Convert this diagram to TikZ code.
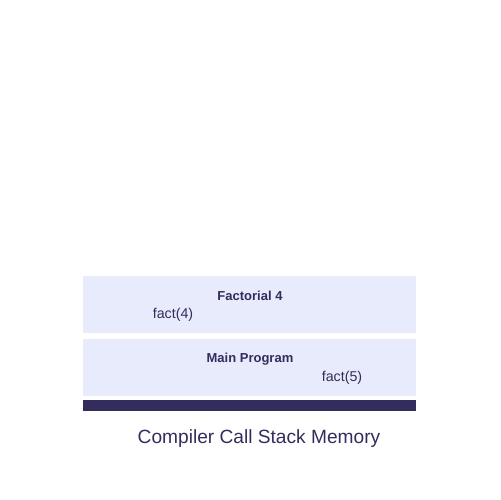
\documentclass[tikz,border=0pt]{standalone}
\usepackage{fontspec}
\setmainfont{Liberation Sans}
\usepackage{xcolor}
\usetikzlibrary{calc}
\definecolor{framefill}{HTML}{E8EBFC}
\definecolor{stackink}{HTML}{322D5C}

\begin{document}
\begin{tikzpicture}[x=0.02cm,y=-0.02cm]
\tikzset{
  frame/.style={fill=framefill,draw=none},
  frametitle/.style={text=stackink,font=\fontsize{7.4}{9}\selectfont\bfseries,inner sep=0pt},
  callnote/.style={text=stackink,font=\fontsize{8.1}{9}\selectfont,inner sep=0pt}
}
\useasboundingbox (0,0) rectangle (500,500);
% Two stack frames on top of the base
\fill[frame] (83,276) rectangle (416,333);
\fill[frame] (83,339) rectangle (416,396);
\fill[stackink] (83,400) rectangle (416,411);

\node[frametitle] (fac) at (250,296) {Factorial 4};
\node[callnote] (c4) at (173,315) {fact(4)};
\node[frametitle] (main) at (250,359) {Main Program};
\node[callnote] (c5) at (342,378) {fact(5)};

\node[text=stackink,font=\fontsize{10.9}{12}\selectfont,inner sep=0pt] (cap) at (259,439) {Compiler Call Stack Memory};
\end{tikzpicture}
\end{document}
